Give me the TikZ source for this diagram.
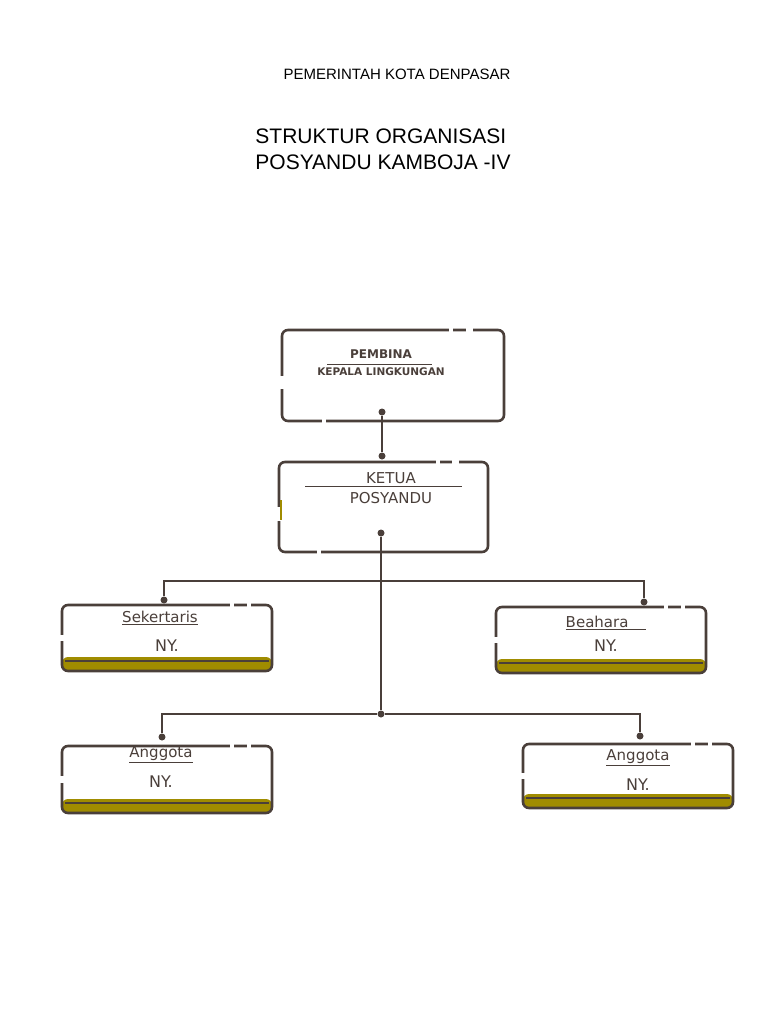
\documentclass[tikz,border=0pt]{standalone}
\usepackage{fontspec}
\setmainfont{Liberation Sans}
\newfontfamily\dv{DejaVu Sans}
\definecolor{brn}{HTML}{4A3F3A}
\definecolor{olv}{HTML}{A08C00}
\begin{document}
\begin{tikzpicture}[x=1pt,y=-1pt,
  bx/.style={draw=brn,line width=2.6pt,rounded corners=6pt},
  gap/.style={draw=white,line width=4pt},
  dot/.style={circle,fill=brn,inner sep=0pt,minimum size=7pt},
  ln/.style={draw=brn,line width=1.3pt},
  lbl/.style={text=brn,font=\dv}]
\useasboundingbox (0,0) rectangle (768,1024);
\node[text=black,font=\fontsize{15}{18}\selectfont] (hdr) at (397,74) {PEMERINTAH KOTA DENPASAR};
\node[text=black,font=\fontsize{21}{26}\selectfont,align=left] (ttl) at (383,149) {STRUKTUR ORGANISASI\\POSYANDU KAMBOJA -IV};
% boxes
\newcommand\obox[5]{%
  \fill[olv,rounded corners=6pt] (#1,#4-14) rectangle (#3,#4);
  \draw[bx] (#1,#2) rectangle (#3,#4);
  \draw[brn,line width=1.5pt] (#1+3,#4-10) -- (#3-3,#4-10);
  \draw[gap] ({#1+0.80*(#3-#1)},#2) -- ({#1+0.82*(#3-#1)},#2);
  \draw[gap] ({#1+0.88*(#3-#1)},#2) -- ({#1+0.9*(#3-#1)},#2);
  \draw[gap] (#1,{#2+0.45*(#4-#2)}) -- (#1,{#2+0.55*(#4-#2)});
  \draw[draw=olv,line width=3pt] ({#1+0.18*(#3-#1)},#4-7) -- ({#1+0.21*(#3-#1)},#4-7);
}
\newcommand\pbox[4]{%
  \draw[bx] (#1,#2) rectangle (#3,#4);
  \draw[gap] ({#1+0.75*(#3-#1)},#2) -- ({#1+0.77*(#3-#1)},#2);
  \draw[gap] ({#1+0.83*(#3-#1)},#2) -- ({#1+0.86*(#3-#1)},#2);
  \draw[gap] (#1,{#2+0.5*(#4-#2)}) -- (#1,{#2+0.65*(#4-#2)});
  \draw[gap] ({#1+0.18*(#3-#1)},#4) -- ({#1+0.2*(#3-#1)},#4);
}
\pbox{282}{330}{504}{421}
\pbox{279}{462}{488}{552}
\draw[olv,line width=2.5pt] (281,500) -- (281,520);
\obox{62}{605}{272}{671}{}
\obox{496}{607}{706}{673}{}
\obox{62}{746}{272}{813}{}
\obox{523}{744}{733}{808}{}
% texts
\node[lbl,font=\dv\bfseries\fontsize{12}{14}\selectfont] (pem) at (381,354) {PEMBINA};
\draw[brn,line width=0.6pt] (327,364) -- (432,364);
\node[lbl,font=\dv\bfseries\fontsize{10.5}{13}\selectfont] (kep) at (381,372) {KEPALA LINGKUNGAN};
\node[lbl,font=\dv\fontsize{15}{18}\selectfont] (ket) at (391,478) {KETUA};
\draw[brn,line width=0.6pt] (305,486) -- (462,486);
\node[lbl,font=\dv\fontsize{15}{18}\selectfont] (pos) at (391,498) {POSYANDU};
\node[lbl,font=\dv\fontsize{15}{18}\selectfont] (sek) at (160,618) {\underline{Sekertaris}};
\node[lbl,font=\dv\fontsize{16}{19}\selectfont] (sny) at (167,646) {NY.};
\node[lbl,font=\dv\fontsize{15}{18}\selectfont] (bea) at (606,623) {\underline{Beahara\phantom{xx}}};
\node[lbl,font=\dv\fontsize{16}{19}\selectfont] (bny) at (606,646) {NY.};
\node[lbl,font=\dv\fontsize{15}{18}\selectfont] (ag1) at (161,755) {\underline{Anggota}};
\node[lbl,font=\dv\fontsize{16}{19}\selectfont] (any1) at (161,782) {NY.};
\node[lbl,font=\dv\fontsize{15}{18}\selectfont] (ag2) at (638,758) {\underline{Anggota}};
\node[lbl,font=\dv\fontsize{16}{19}\selectfont] (any2) at (638,785) {NY.};
% dots
\node[dot] (d1) at (382,412) {};
\node[dot] (d2) at (382,456) {};
\node[dot] (d3) at (381,533) {};
\node[dot] (d4) at (381,714) {};
\node[dot] (d5) at (164,600) {};
\node[dot] (d6) at (644,602) {};
\node[dot] (d7) at (162,737) {};
\node[dot] (d8) at (640,736) {};
\coordinate (h1) at (381,581);
\draw[ln] (d1) -- (d2);
\draw[ln] (d3) -- (d4);
\draw[ln] (d5) |- (h1) -| (d6);
\draw[ln] (d7) |- (d4) -| (d8);
\end{tikzpicture}
\end{document}
